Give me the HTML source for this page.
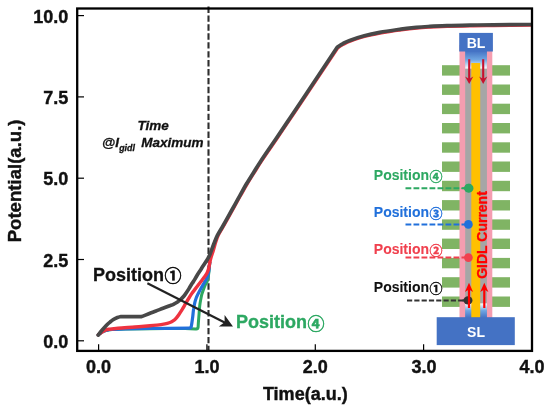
<!DOCTYPE html>
<html>
<head>
<meta charset="utf-8">
<title>Potential vs Time</title>
<style>
html,body{margin:0;padding:0;background:#fff;}
body{width:550px;height:410px;overflow:hidden;}
svg{display:block;}
text{font-family:"Liberation Sans","Noto Sans CJK SC",sans-serif;font-weight:bold;}
.tk{font-size:18px;fill:#111;stroke:#111;stroke-width:0.4px;}
.circ{font-family:"Liberation Sans","Noto Sans CJK SC",sans-serif;font-weight:bold;}
</style>
</head>
<body>
<svg width="550" height="410" viewBox="0 0 550 410">
<rect x="0" y="0" width="550" height="410" fill="#ffffff"/>

<!-- ===== inset device diagram ===== -->
<defs>
<linearGradient id="gTop" x1="0" y1="0" x2="0" y2="1">
<stop offset="0" stop-color="#4472C4"/><stop offset="0.5" stop-color="#6FA6E2"/><stop offset="1" stop-color="#ffffff"/>
</linearGradient>
<linearGradient id="gBot" x1="0" y1="0" x2="0" y2="1">
<stop offset="0" stop-color="#ffffff"/><stop offset="0.5" stop-color="#6FA6E2"/><stop offset="1" stop-color="#4472C4"/>
</linearGradient>
</defs>
<g id="inset">
<!-- green word-line bars -->
<g fill="#80B464">
<rect x="442" y="65.2" width="68" height="10.4"/>
<rect x="442" y="84.5" width="68" height="10.4"/>
<rect x="442" y="103.7" width="68" height="10.4"/>
<rect x="442" y="123" width="68" height="10.4"/>
<rect x="442" y="142.3" width="68" height="10.4"/>
<rect x="442" y="161.5" width="68" height="10.4"/>
<rect x="442" y="180.8" width="68" height="10.4"/>
<rect x="442" y="200.1" width="68" height="10.4"/>
<rect x="442" y="219.4" width="68" height="10.4"/>
<rect x="442" y="238.6" width="68" height="10.4"/>
<rect x="442" y="257.9" width="68" height="10.4"/>
<rect x="442" y="277.2" width="68" height="10.4"/>
<rect x="442" y="296.5" width="68" height="10.4"/>
</g>
<!-- pink oxide -->
<rect x="459.5" y="45" width="32.8" height="273" fill="#F59DB0"/>
<!-- channel -->
<rect x="465.2" y="50" width="21.7" height="268" fill="#A6A6A6"/>
<rect x="465.2" y="51" width="21.7" height="17.6" fill="url(#gTop)"/>
<rect x="465.2" y="303.4" width="21.7" height="14.4" fill="url(#gBot)"/>
<!-- core -->
<rect x="471.3" y="63" width="8.9" height="255" fill="#FFC000"/>
<!-- BL / SL -->
<rect x="459.2" y="32.9" width="33.7" height="18.6" fill="#4472C4"/>
<rect x="436.7" y="317.2" width="78.1" height="27.9" fill="#4472C4"/>
<text x="476" y="47.6" font-size="14" fill="#fff" text-anchor="middle">BL</text>
<text x="476" y="337" font-size="14" fill="#fff" text-anchor="middle">SL</text>
<!-- arrows down -->
<g stroke="#C8102E" stroke-width="2.1" fill="#C8102E">
<line x1="469.2" y1="59.2" x2="469.2" y2="80"/><path d="M469.2 84 L465.1 76.4 L469.2 79 L473.3 76.4 Z" stroke="none"/>
<line x1="483.2" y1="59.2" x2="483.2" y2="80"/><path d="M483.2 84 L479.1 76.4 L483.2 79 L487.3 76.4 Z" stroke="none"/>
</g>
<!-- GIDL Current -->
<text transform="translate(487 278.8) rotate(-90)" font-size="14" fill="#FF0000" stroke="#FF0000" stroke-width="0.3">GIDL Current</text>
<!-- position markers -->
<g stroke-width="2" stroke-dasharray="5.8 2.2" fill="none">
<line x1="405.5" y1="188.2" x2="466" y2="188.2" stroke="#2DA862"/>
<line x1="405.5" y1="224.4" x2="466" y2="224.4" stroke="#2170DB"/>
<line x1="405.5" y1="257.6" x2="466" y2="257.6" stroke="#F0404E"/>
<line x1="407" y1="300.4" x2="466" y2="300.4" stroke="#333333" stroke-dasharray="5.2 2.1"/>
</g>
<path d="M460.5 188.2 L465 187 A4.35 4.35 0 1 1 465 189.4 Z" fill="#2DA862"/>
<circle cx="468.4" cy="188.2" r="4.35" fill="#2DA862"/>
<circle cx="468.4" cy="224.4" r="4.35" fill="#2170DB"/>
<circle cx="468.4" cy="257.6" r="4.35" fill="#F0404E"/>
<ellipse cx="468" cy="300.4" rx="4.5" ry="4.1" fill="#333333"/>
<path d="M460.5 300.4 L465.5 298.6 L465.5 302.2 Z" fill="#333333"/>
<text x="373.8" y="179.7" font-size="14" fill="#2DA862" stroke="#2DA862" stroke-width="0.1">Position<tspan class="circ" font-size="13" dy="1" dx="0.4" stroke-width="0.4">④</tspan></text>
<text x="373.8" y="217.1" font-size="14" fill="#2170DB" stroke="#2170DB" stroke-width="0.1">Position<tspan class="circ" font-size="13" dy="1" dx="0.4" stroke-width="0.4">③</tspan></text>
<text x="373.8" y="254.4" font-size="14" fill="#F0404E" stroke="#F0404E" stroke-width="0.1">Position<tspan class="circ" font-size="13" dy="1" dx="0.4" stroke-width="0.4">②</tspan></text>
<text x="373.8" y="292.3" font-size="14" fill="#111111" stroke="#111111" stroke-width="0.1">Position<tspan class="circ" font-size="13" dy="1" dx="0.4" stroke-width="0.4">①</tspan></text>
<!-- arrows up -->
<g stroke="#FF0000" stroke-width="2.2" fill="#FF0000">
<line x1="469" y1="308" x2="469" y2="287"/><path d="M469 282.8 L464.9 292 L469 289.4 L473.1 292 Z" stroke="none"/>
<line x1="484.3" y1="308" x2="484.3" y2="287"/><path d="M484.3 282.8 L480.2 292 L484.3 289.4 L488.4 292 Z" stroke="none"/>
</g>
</g>

<!-- ===== dashed vertical marker ===== -->
<line x1="208.5" y1="6.49" x2="208.5" y2="351" stroke="#2e2e2e" stroke-width="2.1" stroke-dasharray="6.4 2.53"/>

<!-- ===== curves ===== -->
<g fill="none" stroke-linejoin="round" stroke-linecap="round">
<path stroke="#2DA862" stroke-width="3" d="M98.3 334.8 C98.9 334.4 100.7 332.9 102.0 332.2 C103.3 331.5 104.3 331.0 106.0 330.6 C107.7 330.2 108.8 329.9 112.0 329.6 C115.2 329.4 118.7 329.2 125.0 329.1 C131.3 329.0 140.0 328.8 150.0 328.7 C160.0 328.6 177.3 328.6 185.0 328.6 C192.7 328.7 194.5 328.9 196.4 329.0 Q197.9 329 198.1 327.3 C198.2 326.2 198.3 323.1 198.5 321.0 C198.7 318.9 198.8 317.1 199.0 314.6 C199.2 312.1 199.4 308.5 199.7 306.0 C200.0 303.5 200.3 301.8 200.7 299.8 C201.1 297.8 201.4 295.7 201.9 294.0 C202.4 292.3 202.9 291.2 203.4 289.7 C203.9 288.2 204.5 286.4 205.2 285.0 C205.8 283.6 206.7 283.0 207.3 281.0 C207.9 279.0 208.4 276.1 208.8 273.0 C209.2 269.9 209.6 264.2 209.8 262.4"/>
<path stroke="#2170DB" stroke-width="3.2" d="M98.3 334.8 C98.9 334.4 100.7 332.8 102.0 332.1 C103.3 331.4 104.3 330.9 106.0 330.5 C107.7 330.1 108.8 329.8 112.0 329.5 C115.2 329.2 118.7 329.2 125.0 329.0 C131.3 328.8 139.3 328.6 150.0 328.5 C160.7 328.4 182.8 328.2 189.3 328.2 Q190.9 328.2 191.3 326.4 C191.4 325.7 191.8 323.6 192.0 322.0 C192.2 320.4 192.4 319.2 192.7 317.0 C193.0 314.8 193.2 311.4 193.6 309.0 C193.9 306.6 194.4 304.4 194.8 302.6 C195.2 300.8 195.7 299.4 196.2 298.0 C196.7 296.6 197.0 296.0 198.0 294.0 C199.0 292.0 201.1 288.1 202.3 286.0 C203.5 283.9 204.2 282.8 205.0 281.4 C205.8 279.9 206.7 279.0 207.3 277.3 C207.9 275.6 208.4 273.5 208.8 271.0 C209.2 268.5 209.6 263.8 209.8 262.4"/>
<path stroke="#EE3340" stroke-width="3.3" d="M209.8 262.4 C210.0 261.5 210.7 258.7 211.2 257.0 C211.7 255.3 212.3 253.8 212.9 252.0 C213.5 250.2 214.1 247.8 214.6 246.0 C215.1 244.2 215.5 242.8 216.1 241.0 C216.7 239.2 217.1 237.6 218.2 235.4 C219.2 233.2 220.7 230.9 222.4 227.9 C224.1 224.9 226.4 221.0 228.4 217.4 C230.4 213.8 232.4 210.2 234.4 206.6 C236.4 203.0 238.3 199.5 240.4 195.8 C242.5 192.1 244.6 188.1 246.9 184.3 C249.2 180.5 251.6 176.7 254.0 172.9 C256.4 169.1 258.6 165.5 261.1 161.7 C263.6 157.9 266.2 154.1 268.8 150.3 C271.3 146.6 272.8 144.4 276.4 139.2 C280.0 133.9 285.3 126.1 290.2 118.8 C295.1 111.5 303.4 99.2 306.0 95.3 L337.6 48.1 C338.4 47.4 341.1 45.5 343.2 44.4 C345.3 43.2 346.3 42.5 349.9 41.2 C353.4 40.0 359.5 37.9 364.5 36.5 C369.5 35.2 373.8 34.3 379.9 33.1 C386.0 32.0 395.1 30.7 401.2 29.9 C407.3 29.0 411.8 28.5 416.6 28.1 C421.4 27.6 425.1 27.4 430.2 27.1 C435.3 26.9 440.5 26.7 447.2 26.4 C453.9 26.2 462.4 26.0 470.2 25.9 C478.0 25.7 483.6 25.7 493.8 25.6 C504.0 25.4 525.0 25.3 531.2 25.2"/>
<path stroke="#EE3340" stroke-width="3.4" d="M98.3 334.8 C98.9 334.3 100.8 332.8 102.0 332.0 C103.2 331.2 104.3 330.6 105.5 330.2 C106.7 329.8 106.9 329.6 109.0 329.3 C111.1 329.0 113.7 328.6 118.0 328.2 C122.3 327.8 129.7 327.4 135.0 327.0 C140.3 326.6 146.3 326.1 150.0 325.8 C153.7 325.5 154.5 325.4 157.0 325.1 C159.5 324.8 162.8 324.3 165.0 323.9 C167.2 323.5 168.6 323.0 170.0 322.5 C171.4 322.0 172.4 321.4 173.4 320.7 C174.4 320.0 175.3 319.1 176.0 318.3 C176.7 317.5 177.1 317.0 177.8 316.1 C178.5 315.2 179.3 314.0 180.0 312.9 C180.7 311.8 181.5 310.7 182.2 309.5 C182.9 308.3 183.7 307.0 184.4 305.7 C185.1 304.4 185.8 303.3 186.6 301.9 C187.4 300.5 188.4 298.9 189.3 297.5 C190.2 296.1 190.6 295.2 192.0 293.3 C193.4 291.4 195.8 288.3 197.5 286.0 C199.2 283.7 201.1 281.3 202.3 279.7 C203.6 278.1 204.2 277.3 205.0 276.1 C205.8 274.9 206.7 273.7 207.3 272.3 C207.9 270.9 208.4 269.6 208.8 268.0 C209.2 266.4 209.6 263.3 209.8 262.4"/>
<path stroke="#484848" stroke-width="3.7" d="M98.2 335.1 C98.8 334.3 100.6 331.9 102.0 330.3 C103.4 328.7 105.2 326.7 106.5 325.3 C107.8 323.9 108.9 323.0 110.0 322.1 C111.1 321.2 111.8 320.6 113.0 319.8 C114.2 319.0 116.2 318.0 117.4 317.5 C118.6 317.0 119.9 316.8 120.4 316.7 L141.6 316.6 C143.0 316.1 147.6 314.2 150.0 313.3 C152.4 312.4 153.8 311.8 156.0 311.0 C158.2 310.2 160.8 309.1 163.0 308.3 C165.2 307.5 167.3 306.7 169.0 306.0 C170.7 305.3 172.0 305.0 173.4 304.3 C174.8 303.6 176.2 302.9 177.5 302.0 C178.8 301.1 179.9 300.2 181.0 299.2 C182.1 298.2 183.1 297.1 184.0 296.0 C184.9 294.9 185.5 294.0 186.3 292.8 C187.1 291.6 188.1 290.1 189.0 288.6 C189.9 287.1 191.0 285.2 192.0 283.6 C193.0 282.0 194.1 280.6 194.9 279.2 C195.7 277.8 195.9 277.3 197.0 275.5 C198.1 273.7 200.2 270.6 201.5 268.5 C202.8 266.4 204.0 264.7 205.0 263.1 C206.0 261.5 206.8 260.3 207.5 259.1 C208.2 257.9 208.8 257.0 209.3 255.8 C209.9 254.7 210.0 254.3 210.8 252.2 C211.6 250.1 213.0 246.1 214.1 243.3 C215.2 240.5 216.1 238.0 217.4 235.4 C218.7 232.8 220.1 230.8 221.9 227.7 C223.7 224.6 226.0 220.5 228.0 216.9 C230.0 213.3 232.0 209.7 234.0 206.1 C236.0 202.5 237.9 199.0 240.0 195.3 C242.1 191.6 244.2 187.6 246.5 183.8 C248.8 180.0 251.2 176.2 253.6 172.4 C256.0 168.6 258.2 165.0 260.7 161.2 C263.2 157.4 265.8 153.6 268.4 149.8 C270.9 146.1 272.4 143.9 276.0 138.7 C279.6 133.4 284.9 125.6 289.8 118.3 C294.7 111.0 303.0 98.7 305.6 94.8 L337.2 47.3 C338.2 46.7 340.9 44.7 343.0 43.6 C345.1 42.5 346.1 41.8 349.7 40.5 C353.2 39.2 359.3 37.1 364.3 35.8 C369.3 34.4 373.6 33.5 379.7 32.4 C385.8 31.3 394.9 30.0 401.0 29.1 C407.1 28.2 411.6 27.8 416.4 27.3 C421.2 26.9 424.9 26.7 430.0 26.4 C435.1 26.1 440.3 25.9 447.0 25.7 C453.7 25.5 462.2 25.2 470.0 25.1 C477.8 25.0 483.4 24.9 493.6 24.8 C503.8 24.7 524.8 24.6 531.0 24.5"/>
</g>

<!-- ===== frame & ticks ===== -->
<rect x="77.2" y="8.5" width="454.8" height="342.4" fill="none" stroke="#000" stroke-width="2.3"/>
<g stroke="#000" stroke-width="1.2">
<line x1="78" y1="15.6" x2="84" y2="15.6"/>
<line x1="78" y1="96.9" x2="84" y2="96.9"/>
<line x1="78" y1="178.2" x2="84" y2="178.2"/>
<line x1="78" y1="259.5" x2="84" y2="259.5"/>
<line x1="78" y1="340.8" x2="84" y2="340.8"/>
<line x1="98.6" y1="350" x2="98.6" y2="344.3"/>
<line x1="206.9" y1="350" x2="206.9" y2="344.3"/>
<line x1="315.3" y1="350" x2="315.3" y2="344.3"/>
<line x1="423.6" y1="350" x2="423.6" y2="344.3"/>
</g>

<!-- tick labels -->
<g class="tk" text-anchor="end">
<text x="68.4" y="22.8">10.0</text>
<text x="68.4" y="104.1">7.5</text>
<text x="68.4" y="185.4">5.0</text>
<text x="68.4" y="266.7">2.5</text>
<text x="68.4" y="348">0.0</text>
</g>
<g class="tk" text-anchor="middle">
<text x="98.6" y="372.8">0.0</text>
<text x="206.9" y="372.8">1.0</text>
<text x="315.3" y="372.8">2.0</text>
<text x="424" y="372.8">3.0</text>
<text x="532" y="372.8">4.0</text>
</g>

<!-- axis labels -->
<text x="305.3" y="399.5" font-size="18" fill="#111" stroke="#111" stroke-width="0.4" text-anchor="middle">Time(a.u.)</text>
<text transform="translate(20.6 180.9) rotate(-90)" font-size="18.6" fill="#111" stroke="#111" stroke-width="0.4" text-anchor="middle">Potential(a.u.)</text>

<!-- annotations -->
<text x="137.6" y="130.1" font-size="13.5" font-style="italic" fill="#111" stroke="#111" stroke-width="0.3">Time</text>
<text x="102" y="146.7" font-size="13.5" font-style="italic" fill="#111" stroke="#111" stroke-width="0.3">@I<tspan font-size="8.8" dy="3.8" dx="0.3">gidl</tspan><tspan dy="-3.8" dx="6.3">Maximum</tspan></text>

<text x="93" y="281" font-size="18" fill="#111" stroke="#111" stroke-width="0.3">Position<tspan class="circ" font-size="17" dy="1.3" dx="0.6" stroke-width="0.55">①</tspan></text>
<text x="236" y="328.2" font-size="18" fill="#2DA862" stroke="#2DA862" stroke-width="0.3">Position<tspan class="circ" font-size="17" dy="1.3" dx="0.6" stroke-width="0.55">④</tspan></text>
<line x1="147.4" y1="283.2" x2="225.6" y2="322.9" stroke="#222" stroke-width="2.2"/>
<path d="M233 326.6 L224.6 315 L224.6 322.2 L218.8 326.6 Z" fill="#222"/>
</svg>
</body>
</html>
